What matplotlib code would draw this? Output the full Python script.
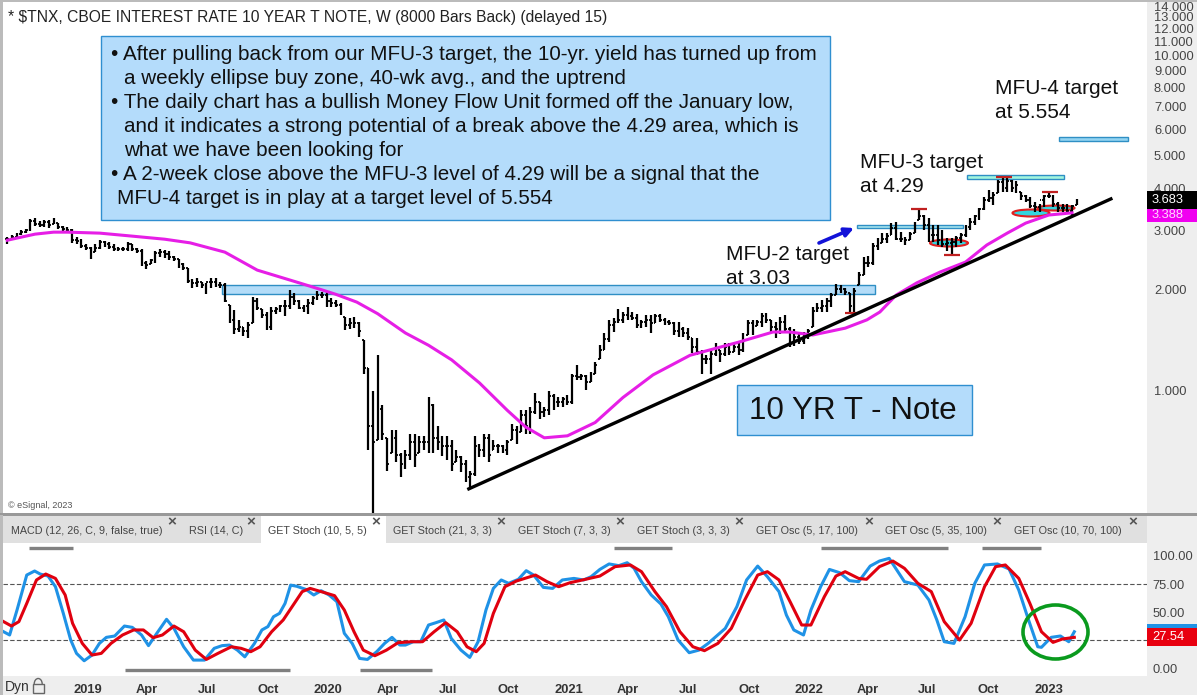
import numpy as np
import matplotlib
matplotlib.use("Agg")
import matplotlib.pyplot as plt
from matplotlib.patches import Rectangle, Ellipse, Arc, FancyArrowPatch

plt.rcParams['font.family'] = ['Liberation Sans', 'DejaVu Sans']

# weekly bars, yield values
highs = [2.86, 2.90, 2.94, 3.00, 3.03, 3.25, 3.26, 3.20, 3.22, 3.22,
         3.26, 3.16, 3.08, 3.06, 3.02, 2.86, 2.82, 2.72, 2.68, 2.72,
         2.80, 2.78, 2.76, 2.72, 2.68, 2.68, 2.76, 2.72, 2.66, 2.64,
         2.42, 2.46, 2.60, 2.64, 2.62, 2.60, 2.52, 2.46, 2.40, 2.32,
         2.14, 2.16, 2.10, 2.09, 2.16, 2.16, 2.10, 2.09, 1.79, 1.73,
         1.62, 1.54, 1.60, 1.90, 1.88, 1.74, 1.71, 1.77, 1.77, 1.80,
         1.86, 1.99, 1.95, 1.86, 1.80, 1.87, 1.91, 1.97, 1.96, 1.96,
         1.88, 1.86, 1.82, 1.65, 1.64, 1.65, 1.60, 1.41, 1.16, 0.99,
         1.27, 0.90, 0.72, 0.76, 0.76, 0.65, 0.66, 0.74, 0.74, 0.73,
         0.73, 0.955, 0.91, 0.78, 0.73, 0.73, 0.71, 0.66, 0.635, 0.62,
         0.574, 0.73, 0.69, 0.74, 0.74, 0.71, 0.69, 0.687, 0.71, 0.79,
         0.78, 0.87, 0.87, 0.89, 0.98, 0.92, 0.89, 0.99, 0.97, 0.955,
         0.955, 0.966, 1.12, 1.19, 1.12, 1.11, 1.13, 1.215, 1.36, 1.476,
         1.62, 1.64, 1.75, 1.71, 1.77, 1.71, 1.69, 1.62, 1.675, 1.675,
         1.69, 1.69, 1.64, 1.62, 1.60, 1.60, 1.545, 1.53, 1.43, 1.43,
         1.32, 1.27, 1.32, 1.38, 1.32, 1.38, 1.38, 1.38, 1.39, 1.48,
         1.62, 1.62, 1.62, 1.70, 1.70, 1.62, 1.60, 1.65, 1.68, 1.54,
         1.52, 1.47, 1.49, 1.52, 1.77, 1.82, 1.86, 1.88, 1.95, 2.07,
         2.06, 2.02, 1.95, 2.02, 2.25, 2.49, 2.51, 2.75, 2.84, 2.94,
         2.94, 3.15, 3.17, 2.96, 2.86, 2.96, 3.17, 3.47, 3.33, 3.26,
         3.10, 3.10, 3.00, 2.84, 2.84, 2.88, 2.94, 3.10, 3.26, 3.33,
         3.49, 3.76, 3.95, 3.90, 4.24, 4.33, 4.33, 4.24, 4.20, 3.90,
         3.82, 3.76, 3.64, 3.60, 3.82, 3.90, 3.82, 3.64, 3.58, 3.58,
         3.57, 3.72]
lows = [2.72, 2.80, 2.84, 2.90, 2.94, 2.98, 3.08, 3.06, 3.06, 3.05,
        3.12, 3.02, 2.98, 2.96, 2.75, 2.72, 2.65, 2.62, 2.46, 2.58,
        2.64, 2.68, 2.64, 2.60, 2.60, 2.60, 2.60, 2.60, 2.56, 2.34,
        2.30, 2.38, 2.40, 2.50, 2.48, 2.44, 2.42, 2.32, 2.28, 2.08,
        2.02, 2.03, 2.02, 1.93, 2.02, 2.03, 2.02, 1.83, 1.58, 1.47,
        1.49, 1.45, 1.43, 1.58, 1.73, 1.64, 1.51, 1.51, 1.69, 1.71,
        1.66, 1.75, 1.80, 1.74, 1.71, 1.69, 1.79, 1.86, 1.88, 1.77,
        1.77, 1.77, 1.67, 1.51, 1.52, 1.53, 1.44, 1.12, 0.66, 0.43,
        0.71, 0.71, 0.574, 0.65, 0.61, 0.55, 0.58, 0.62, 0.59, 0.65,
        0.66, 0.65, 0.65, 0.66, 0.635, 0.62, 0.574, 0.61, 0.57, 0.53,
        0.505, 0.555, 0.63, 0.63, 0.61, 0.66, 0.65, 0.65, 0.64, 0.71,
        0.69, 0.75, 0.74, 0.74, 0.85, 0.82, 0.83, 0.84, 0.87, 0.89,
        0.89, 0.90, 0.91, 1.07, 1.07, 1.00, 1.06, 1.12, 1.24, 1.316,
        1.39, 1.49, 1.58, 1.58, 1.62, 1.62, 1.53, 1.53, 1.545, 1.476,
        1.58, 1.60, 1.56, 1.56, 1.46, 1.44, 1.44, 1.41, 1.29, 1.27,
        1.12, 1.20, 1.12, 1.26, 1.215, 1.26, 1.27, 1.30, 1.27, 1.30,
        1.46, 1.46, 1.55, 1.54, 1.59, 1.49, 1.43, 1.47, 1.49, 1.34,
        1.35, 1.37, 1.37, 1.42, 1.54, 1.71, 1.71, 1.71, 1.77, 1.92,
        1.95, 1.92, 1.71, 1.70, 2.06, 2.20, 2.33, 2.36, 2.62, 2.75,
        2.75, 2.90, 2.80, 2.77, 2.71, 2.80, 2.94, 3.22, 3.00, 2.77,
        2.77, 2.71, 2.67, 2.60, 2.53, 2.67, 2.75, 2.86, 3.00, 3.10,
        3.22, 3.45, 3.64, 3.57, 3.87, 3.90, 3.90, 3.90, 3.87, 3.69,
        3.64, 3.49, 3.40, 3.40, 3.53, 3.74, 3.53, 3.40, 3.40, 3.40,
        3.31, 3.57]
closes = [2.82, 2.86, 2.92, 2.96, 3.00, 3.20, 3.12, 3.10, 3.18, 3.10,
          3.20, 3.06, 3.02, 3.00, 2.80, 2.78, 2.70, 2.66, 2.52, 2.66,
          2.76, 2.72, 2.68, 2.64, 2.64, 2.64, 2.72, 2.64, 2.60, 2.40,
          2.36, 2.44, 2.56, 2.58, 2.54, 2.50, 2.46, 2.38, 2.32, 2.12,
          2.08, 2.10, 2.06, 2.10, 2.10, 2.06, 2.06, 1.85, 1.62, 1.52,
          1.54, 1.50, 1.56, 1.84, 1.76, 1.68, 1.54, 1.72, 1.74, 1.78,
          1.78, 1.90, 1.84, 1.76, 1.78, 1.82, 1.88, 1.92, 1.92, 1.84,
          1.82, 1.80, 1.70, 1.56, 1.58, 1.58, 1.50, 1.16, 0.78, 0.70,
          0.88, 0.74, 0.60, 0.72, 0.64, 0.60, 0.64, 0.70, 0.64, 0.70,
          0.70, 0.90, 0.72, 0.70, 0.68, 0.68, 0.60, 0.63, 0.60, 0.55,
          0.56, 0.68, 0.66, 0.72, 0.64, 0.68, 0.68, 0.66, 0.70, 0.76,
          0.74, 0.84, 0.78, 0.86, 0.92, 0.86, 0.87, 0.96, 0.92, 0.92,
          0.94, 0.92, 1.10, 1.09, 1.10, 1.06, 1.10, 1.19, 1.32, 1.42,
          1.56, 1.60, 1.62, 1.68, 1.66, 1.64, 1.56, 1.60, 1.62, 1.58,
          1.66, 1.62, 1.60, 1.58, 1.50, 1.52, 1.48, 1.44, 1.34, 1.30,
          1.24, 1.24, 1.28, 1.32, 1.28, 1.34, 1.30, 1.34, 1.32, 1.40,
          1.58, 1.50, 1.60, 1.66, 1.62, 1.54, 1.52, 1.60, 1.52, 1.38,
          1.44, 1.40, 1.46, 1.50, 1.72, 1.76, 1.78, 1.84, 1.92, 2.00,
          2.00, 1.96, 1.78, 1.98, 2.20, 2.40, 2.40, 2.70, 2.72, 2.82,
          2.88, 3.05, 2.82, 2.82, 2.80, 2.92, 3.12, 3.30, 3.10, 2.90,
          2.90, 2.80, 2.72, 2.74, 2.76, 2.84, 2.90, 3.06, 3.18, 3.30,
          3.46, 3.70, 3.74, 3.82, 4.18, 4.00, 4.20, 4.00, 4.10, 3.80,
          3.70, 3.55, 3.52, 3.70, 3.80, 3.80, 3.58, 3.50, 3.50, 3.42,
          3.55, 3.68]

# 40 week average
ma_week = [0, 3, 6, 10, 13, 20, 27, 34, 39.5, 47, 54, 63, 68, 71, 75.5, 80, 86, 91, 96, 102, 108, 112,
           116, 121, 127, 133, 139.5, 147.5, 158, 165.4, 169, 174, 181, 185.7, 188.5, 192, 196.5,
           201.5, 207, 211.6, 216, 220, 225, 230]
ma_value = [2.80, 2.86, 2.92, 2.96, 2.96, 2.94, 2.88, 2.82, 2.75, 2.58, 2.28, 2.09, 1.99, 1.93, 1.83, 1.69, 1.48,
            1.36, 1.23, 1.05, 0.87, 0.775, 0.72, 0.73, 0.80, 0.95, 1.11, 1.27, 1.39, 1.49, 1.49, 1.46,
            1.53, 1.62, 1.71, 1.92, 2.09, 2.25, 2.41, 2.71, 2.94, 3.15, 3.33, 3.38]

trend_week = [99.7, 238.4]
trend_value = [0.507, 3.72]

# target bands: first week, last week, low, high, fill, edge
bands_start = [46.4, 183.6, 207.3, 227.2]
bands_end = [187.4, 206.4, 228.3, 242.1]
bands_low = [1.93, 3.04, 4.26, 5.53]
bands_high = [2.06, 3.10, 4.38, 5.69]
bands_fill = ['#b3dcf8', '#a8e6ee', '#a2f5de', '#93d4f2']

# red marks on swing highs and lows
mark_week = [182.6, 197, 204, 215.3, 225.2]
mark_value = [1.70, 3.47, 2.53, 4.33, 3.90]

price_ticks = [1, 2, 3, 4, 5, 6, 7, 8, 9, 10, 11, 12, 13, 14]

# oscillator
blue_week = [-0.8, 0.5, 2.1, 4.2, 5.9, 7.1, 8.8, 10.4, 12.1, 13.7, 14.95, 16.6, 18.3, 19.9, 21.4, 23.2, 25.3, 27,
             29, 30.5, 32.3, 34.4, 36, 38.1, 40.2, 42.6, 44.7, 46.4, 48, 49.7, 51.3, 53.4, 55, 56.3, 57.5, 58.8,
             60, 61.2, 62.5, 64.5, 66.2, 67.8, 69.5, 71.2, 72.8, 74.5, 76.1, 77.8, 79.8, 81.5, 83.1, 84.8, 86,
             87.7, 89.3, 91, 92.6, 94.3, 95.9, 98, 99.9, 101.7, 103.4, 105, 106.7, 108.3, 110.4, 112.1, 113.7,
             115.8, 117.8, 119.9, 122.4, 124.5, 126.1, 128, 130, 132.1, 133.9, 135.4, 137, 139.1, 141.2, 142.8,
             144.9, 147.3, 149.4, 151.4, 155.1, 157.6, 159.7, 162.1, 164.2, 166.7, 168.3, 169.9, 172, 173.6,
             175.7, 177.6, 179.8, 181.9, 183.9, 186.4, 188.4, 190.5, 193.8, 196.7, 199.1, 200.8, 202.4, 204.5,
             206.9, 209, 211.1, 213.9, 216.4, 218.5, 220.5, 222.6, 223.4, 225.5, 227.5, 229.3, 230.5]
blue_value = [32.4, 29.5, 51.8, 83, 86.6, 83.9, 82.1, 72.6, 48.8, 25, 13.1, 6.5, 11.6, 22, 27.4, 28.6, 37.5, 36.3,
              29.5, 20, 31, 43.5, 35.4, 19, 7.1, 7.1, 17.6, 20, 20.5, 16, 10, 22, 34, 37, 45.8, 48.8,
              57.7, 74, 73, 70.2, 65.2, 69, 65.2, 59.2, 31, 22, 8.6, 7.7, 14.6, 22, 27.4, 20.5, 20.5,
              23.5, 23.5, 38.4, 40.5, 42.9, 26.5, 16, 9.5, 23.5, 51.8, 71.1, 78.6, 75.6, 79.2, 86.9, 83,
              72, 71.1, 78.6, 80, 78.6, 81.5, 88, 92.9, 91.4, 94, 89, 77.1, 65.2, 57.1, 45.8,
              25, 13.7, 16, 22, 35.4, 54.8, 78.6, 91, 81.5, 68.2, 47.3, 34, 29.5, 51.8,
              72.6, 88, 85.1, 78, 77.1, 91, 95.5, 97.9, 77.1, 74.1, 60.7, 42.9, 23.5, 22,
              45.8, 75.6, 92, 92.9, 88.4, 69.6, 44.3, 19, 18.5, 27.4, 28.6, 23.5, 32.4]
red_week = [-0.8, 0.9, 2.5, 4.2, 6.3, 8.3, 10.4, 12.5, 14.1, 16.2, 18.3, 20.3, 22.4, 24.9, 27.3, 29.4, 31.5, 33.5,
            36, 38.1, 40.6, 43, 45.5, 48.4, 50.5, 52.6, 54.6, 57.1, 59.6, 62, 63.7, 65.4, 67.8, 70.7, 72.8, 74.9,
            76.9, 79.4, 81.9, 84.4, 87.3, 89.7, 92.2, 94.7, 97.2, 99.3, 101.3, 103, 105, 107.5, 110, 114.1,
            116.6, 119.1, 121.6, 124.9, 128, 131.3, 134.6, 137, 139.9, 142.4, 145.3, 148.1, 150.6, 153.5, 156.4,
            159.3, 162.1, 164.2, 166.7, 169.1, 171.6, 173.6, 176.5, 179, 181, 183.9, 185.6, 188.4, 191.3, 193.8,
            196.7, 199.6, 202.4, 205.7, 208.2, 211.1, 213.5, 215.6, 218.5, 220.9, 223.4, 225.9, 227.9, 230.5]
red_value = [41.4, 37.5, 41.4, 57.7, 78.6, 83.9, 80, 65.2, 39.9, 22, 11.6, 13.1, 22, 29.5, 34, 34, 27.1, 29.5,
             37.5, 32.4, 16, 7.7, 13.1, 19, 17.6, 14.6, 19, 32.4, 42.9, 57.7, 68.2, 71.1, 68.2, 64.6, 51.8, 32.4,
             16, 11, 16, 22.6, 23.5, 23.5, 32.4, 40.5, 32.4, 19, 14.6, 22, 48.8, 72.6, 77.7, 83,
             77.1, 72.6, 76.2, 79.2, 82.1, 90.5, 92, 86, 68.2, 54.8, 32.4, 19, 15.5, 22, 35.4,
             60.7, 83, 86, 78.6, 59.2, 38.4, 38.4, 63.7, 82.1, 86, 80, 79.2, 90.5, 95.5, 89,
             75.6, 68.2, 41.4, 25, 39.9, 72.6, 90.5, 92, 80, 57.7, 32.4, 22.9, 25.9, 27.4]

# grey bars along top and bottom of the oscillator (first week, last week)
top_zone_start = [4.7, 131, 175.7, 210.5]
top_zone_end = [14.2, 143.6, 203.2, 223.2]
bottom_zone_start = [25.4, 76.2]
bottom_zone_end = [61, 91.7]

time_ticks = [17.4, 30.2, 43.1, 56.3, 69.3, 82.2, 95.2, 108.1, 121.3, 134.1, 147, 160.2, 173.2, 185.9, 198.6, 212, 225]
time_labels = ['2019', 'Apr', 'Jul', 'Oct', '2020', 'Apr', 'Jul', 'Oct', '2021', 'Apr', 'Jul', 'Oct', '2022', 'Apr', 'Jul', 'Oct', '2023']
osc_ticks = [0, 50, 75, 100]
osc_labels = ['0.00', '50.00', '75.00', '100.00']

tab_names = ['MACD (12, 26, C, 9, false, true)', 'RSI (14, C)', 'GET Stoch (10, 5, 5)', 'GET Stoch (21, 3, 3)',
             'GET Stoch (7, 3, 3)', 'GET Stoch (3, 3, 3)', 'GET Osc (5, 17, 100)', 'GET Osc (5, 35, 100)', 'GET Osc (10, 70, 100)']
tab_text_x = [11, 189, 268, 393, 518, 637, 756, 885, 1014]
tab_close_x = [172, 251, 376, 501, 620, 739, 869, 997, 1133]

note_lines = ['\u2022 After pulling back from our MFU-3 target, the 10-yr. yield has turned up from',
              'a weekly ellipse buy zone, 40-wk avg., and the uptrend',
              '\u2022 The daily chart has a bullish Money Flow Unit formed off the January low,',
              'and it indicates a strong potential of a break above the 4.29 area, which is',
              'what we have been looking for',
              '\u2022 A 2-week close above the MFU-3 level of 4.29 will be a signal that the',
              'MFU-4 target is in play at a target level of 5.554']
note_x = [111, 124, 111, 124, 124, 111, 117]
note_y = [55, 79, 103, 127, 151, 175, 199]

W, H = 1197, 695
fig = plt.figure(figsize=(W / 100, H / 100), dpi=100, facecolor='#eeeeee')


def panel(left, top, right, bottom):
    return fig.add_axes([left / W, 1 - bottom / H, (right - left) / W, (bottom - top) / H])


ax = panel(3, 2, 1147, 514)
osc = panel(3, 543, 1147, 676)
ov = fig.add_axes([0, 0, 1, 1], zorder=10)
ov.set_xlim(0, W)
ov.set_ylim(H, 0)
ov.axis('off')
ov.patch.set_alpha(0)

weeks = np.arange(len(closes))
opens = np.clip(np.r_[closes[0], closes[:-1]], lows, highs)

ax.set_yscale('log')
ax.set_xlim(-0.93, 246.2)
ax.set_ylim(0.4265, 14.4)
for a, b, lo, hi, c in zip(bands_start, bands_end, bands_low, bands_high, bands_fill):
    ax.add_patch(Rectangle((a, lo), b - a, hi - lo, facecolor=c, edgecolor='#2f8fc4', lw=1, zorder=1))

# ellipse buy zones
for cx, cy, w, h in [(949, 243, 38, 7), (1031, 213, 37, 7), (1056, 208, 37, 5)]:
    ax.add_patch(Ellipse((cx, cy), w, h, transform=ov.transData, facecolor='#33d6e0', edgecolor='#e02020', lw=1.5, zorder=2))

ax.vlines(weeks, lows, highs, color='black', lw=1.6, zorder=3)
ax.hlines(closes, weeks, weeks + 0.4, color='black', lw=1.3, zorder=3)
ax.hlines(opens, weeks - 0.4, weeks, color='black', lw=1.3, zorder=3)
ax.hlines(mark_value, np.array(mark_week) - 1.7, np.array(mark_week) + 1.7, color='#c02020', lw=1.6, zorder=4)
ax.plot(ma_week, ma_value, color='#e61ee6', lw=2.2, zorder=5, solid_joinstyle='round')
ax.plot(trend_week, trend_value, color='black', lw=2.4, zorder=6)

ax.yaxis.tick_right()
ax.set_yticks(price_ticks)
ax.set_yticklabels(['%.3f' % v for v in price_ticks], fontsize=9.3, color='#444444')
ax.minorticks_off()
ax.tick_params(axis='y', length=0, pad=5)
ax.set_xticks([])
for s in ax.spines.values():
    s.set_visible(False)

osc.set_xlim(-0.93, 246.2)
osc.set_ylim(-7.1, 111.6)
osc.axhline(25, color='#555555', lw=0.8, ls=(0, (4, 2)))
osc.axhline(75, color='#555555', lw=0.8, ls=(0, (4, 2)))
osc.plot(blue_week, blue_value, color='#1f92e6', lw=2.2, solid_joinstyle='round')
osc.plot(red_week, red_value, color='#e0000f', lw=2.2, solid_joinstyle='round')
osc.hlines([107] * len(top_zone_start), top_zone_start, top_zone_end, color='#808080', lw=2.4)
osc.hlines([-2] * len(bottom_zone_start), bottom_zone_start, bottom_zone_end, color='#808080', lw=2.4)
osc.yaxis.tick_right()
osc.set_yticks(osc_ticks)
osc.set_yticklabels(osc_labels, fontsize=9.3, color='#444444')
osc.set_xticks(time_ticks)
osc.set_xticklabels(time_labels, fontsize=9.3, fontweight='bold', color='#333333')
osc.tick_params(axis='y', length=0, pad=4)
osc.tick_params(axis='x', length=0, pad=6)
for s in osc.spines.values():
    s.set_visible(False)

# panel divider and indicator tabs
ov.add_patch(Rectangle((0, 513), W, 2.5, color='#999999', lw=0))
ov.add_patch(Rectangle((3, 515.5), 1144, 27.5, color='#e0e0e0', lw=0))
ov.add_patch(Rectangle((261, 515.5), 125, 27.5, color='white', lw=0))
ov.add_patch(Rectangle((0, 0), 3, 513, color='#bbbbbb', lw=0))
ov.add_patch(Rectangle((0, 0), W, 2, color='#bbbbbb', lw=0))
ov.add_patch(Rectangle((0, 515), 3, H - 515, color='#bbbbbb', lw=0))
for name, x in zip(tab_names, tab_text_x):
    ov.text(x, 531, name, fontsize=7.75, color='#444444', va='center')
for x in tab_close_x:
    ov.text(x, 522, '\u00d7', fontsize=11, fontweight='bold', color='#555555', ha='center', va='center')

ov.text(8, 17.5, '* $TNX, CBOE INTEREST RATE 10 YEAR T NOTE, W (8000 Bars Back) (delayed 15)',
        fontsize=11.25, color='#222222', va='center', parse_math=False)
ov.text(8, 505, '\u00a9 eSignal, 2023', fontsize=6.5, color='#555555', va='center')

ov.add_patch(Rectangle((101, 36), 729, 184, facecolor='#b4dcfb', edgecolor='#2f8fd0', lw=1))
for line, x, y in zip(note_lines, note_x, note_y):
    ov.text(x, y, line, fontsize=14.9, color='#111111', va='center')

for txt, x, y in [('MFU-4 target', 995, 88), ('at 5.554', 995, 113), ('MFU-3 target', 860, 162), ('at 4.29', 860, 186),
                  ('MFU-2 target', 726, 254), ('at 3.03', 726, 278)]:
    ov.text(x, y, txt, fontsize=15, color='#111111', va='center')

ov.add_patch(Rectangle((737, 385), 235, 50, facecolor='#b4dcfb', edgecolor='#2f8fd0', lw=1))
ov.text(853, 411, '10 YR T - Note', fontsize=22.6, color='#111111', ha='center', va='center')

ov.add_patch(FancyArrowPatch((819, 243), (854, 228), arrowstyle='-|>', mutation_scale=13, color='#1212d8', lw=2.6, shrinkA=0, shrinkB=0))

# last value tags in the right gutter
for y0, y1, c, txt, tc in [(191, 209, 'black', '3.683', 'white'), (209, 222, '#f000f0', '3.388', '#ffd8ff'),
                           (628, 646, '#e8000f', '27.54', 'white')]:
    ov.add_patch(Rectangle((1147, y0), 50, y1 - y0, color=c, lw=0))
    ov.text(1152, (y0 + y1) / 2, txt, fontsize=9.3, color=tc, va='center')
ov.add_patch(Rectangle((1147, 624), 50, 4, color='#1f92e6', lw=0))

ov.add_patch(Ellipse((1055.5, 632), 65, 54, fill=False, edgecolor='#0a9a1e', lw=2.6))

ov.text(5, 687, 'Dyn', fontsize=10, color='#333333', va='center')
ov.add_patch(Rectangle((32.5, 684), 11.5, 9, fill=False, edgecolor='#666666', lw=1))
ov.add_patch(Arc((38.2, 684), 8, 11, theta1=180, theta2=360, edgecolor='#666666', lw=1))

fig.savefig('out.png', dpi=100, facecolor=fig.get_facecolor())
